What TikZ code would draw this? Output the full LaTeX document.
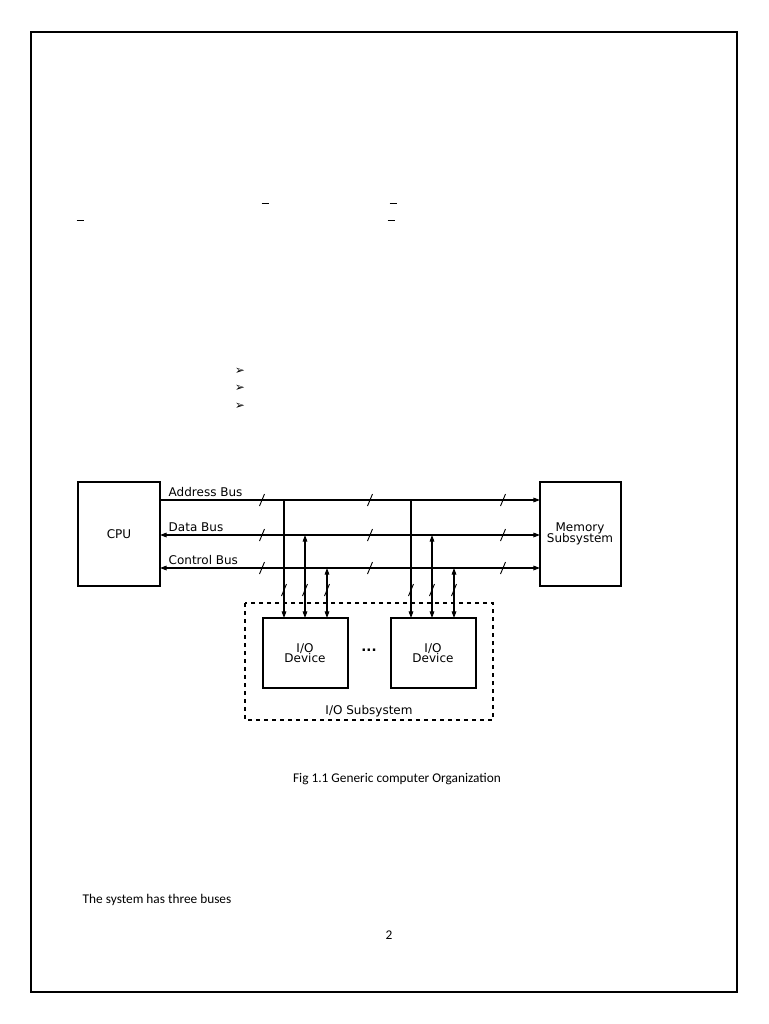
\documentclass[tikz,border=0pt]{standalone}
\usepackage{fontspec}
\setmainfont{Carlito}
\newfontfamily\dv{DejaVu Sans}
\usetikzlibrary{arrows.meta}
\begin{document}
\begin{tikzpicture}[x=0.75pt,y=-0.75pt,
  bus/.style={line width=0.8pt},
  tip/.style={-{Triangle[length=5pt,width=3.5pt]}},
  tips/.style={{Triangle[length=5pt,width=3.5pt]}-{Triangle[length=5pt,width=3.5pt]}},
  lbl/.style={font=\dv\fontsize{9}{10}\selectfont,align=center},
  slash/.style={line width=0.7pt}]
\useasboundingbox (0,0) rectangle (768,1024);
\draw[line width=1pt] (31,32) rectangle (737,992);
% stray marks
\foreach \x/\y in {265/203,393/203,80/220,391/220}
  \draw[line width=0.7pt] (\x-3.5,\y) -- (\x+3.5,\y);
\foreach \y in {371,388,406}
  \node[font=\dv\fontsize{9}{10}\selectfont] at (240,\y) {➢};
% boxes
\draw[line width=0.9pt] (78,482) rectangle (160,586);
\node[lbl] (cpu) at (119,534) {CPU};
\draw[line width=0.9pt] (540,482) rectangle (621,586);
\node[lbl] (mem) at (580,534) {Memory\\[-2pt]Subsystem};
% buses
\draw[bus,tip] (160,500) -- (540,500);
\draw[bus,tips] (160,535) -- (540,535);
\draw[bus,tips] (160,568) -- (540,568);
\node[lbl,anchor=south west] at (164,501) {Address Bus};
\node[lbl,anchor=south west] at (164,536) {Data Bus};
\node[lbl,anchor=south west] at (164,569) {Control Bus};
\foreach \x in {262,370,503} \foreach \y in {500,535,568}
  \draw[slash] (\x-2.5,\y+6) -- (\x+2.5,\y-6);
% IO subsystem
\draw[dashed,line width=0.8pt] (245,603) rectangle (493,720);
\draw[line width=0.9pt] (263,618) rectangle (348,688);
\draw[line width=0.9pt] (391,618) rectangle (476,688);
\node[lbl] (d1) at (305,653) {I/O\\[-2pt]Device};
\node[lbl] (d2) at (433,653) {I/O\\[-2pt]Device};
\node[lbl,font=\dv\bfseries\fontsize{10}{10}\selectfont] (dots) at (369,650) {...};
\node[lbl] (ios) at (369,711) {I/O Subsystem};
\foreach \a in {284,411}{
  \draw[bus,tip] (\a,500) -- (\a,618);
  \draw[bus,tips] (\a+21,535) -- (\a+21,618);
  \draw[bus,tips] (\a+43,568) -- (\a+43,618);
  \foreach \dx in {0,21,43} \draw[slash] (\a+\dx-2.5,596) -- (\a+\dx+2.5,584);
}
\node[font=\fontsize{10}{12}\selectfont] (cap) at (397,779) {Fig 1.1 Generic computer Organization};
\node[font=\fontsize{10}{12}\selectfont,anchor=west] (t) at (78,900) {The system has three buses};
\node[font=\fontsize{10}{12}\selectfont] (pg) at (389,935) {2};
\end{tikzpicture}
\end{document}
